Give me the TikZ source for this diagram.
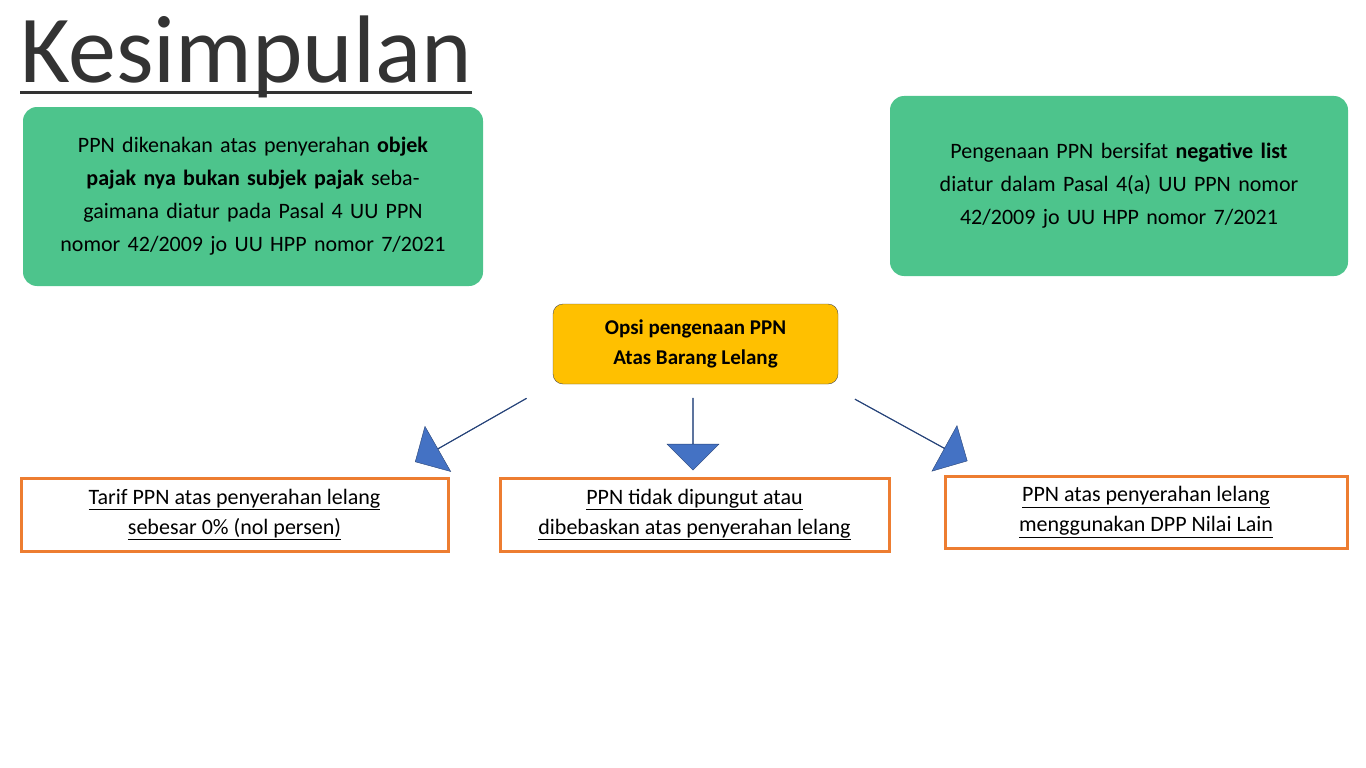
\documentclass[tikz,border=0pt]{standalone}
\usepackage{fontspec}
\setmainfont{Carlito}
\usetikzlibrary{positioning,shapes.arrows}
\definecolor{hijau}{RGB}{77,196,140}
\definecolor{kuning}{RGB}{255,192,0}
\definecolor{oranye}{RGB}{237,125,49}
\definecolor{biru}{RGB}{68,114,196}
\begin{document}
\begin{tikzpicture}[x=1pt,y=-1pt,
	kotak/.style={rectangle,rounded corners=14pt,fill=hijau,align=center,font=\fontsize{22}{33}\selectfont},
	opsi/.style={rectangle,draw=oranye,line width=3pt,align=center,font=\fontsize{22}{30}\selectfont},
	panah/.style={single arrow,draw=biru!60!black,fill=biru,minimum height=128pt,minimum width=52pt,single arrow head extend=14pt,inner sep=0pt}]
	\useasboundingbox (0,0) rectangle (1366,768);
	\node[anchor=base west,inner sep=0pt,font=\fontsize{96}{100}\selectfont,text=black!80] (judul) at (20,83) {Kesimpulan};
	\draw[black!80,line width=3pt] (judul.south west |- 0,93) -- (judul.south east |- 0,93);
	\node[kotak,minimum width=460pt,minimum height=179pt,text width=440pt] (kiri) at (253,196.5) {PPN dikenakan atas penyerahan \textbf{objek pajak nya bukan subjek pajak} sebagaimana diatur pada Pasal 4 UU PPN nomor 42/2009 jo UU HPP nomor 7/2021};
	\node[kotak,minimum width=458pt,minimum height=180pt,text width=440pt] (kanan) at (1119,186) {Pengenaan PPN bersifat \textbf{negative list} diatur dalam Pasal 4(a) UU PPN nomor 42/2009 jo UU HPP nomor 7/2021};
	\node[rectangle,rounded corners=10pt,draw=black!70,fill=kuning,minimum width=285pt,minimum height=80pt,align=center,font=\fontsize{21}{30}\selectfont\bfseries] (opsi) at (695.5,344) {Opsi pengenaan PPN\\Atas Barang Lelang};
	\node[panah,rotate=209.7] (pkiri) at (471,430) {};
	\node[panah,rotate=270,minimum height=72pt] (ptengah) at (693,434) {};
	\node[panah,rotate=331.2] (pkanan) at (911,430) {};
	\node[opsi,minimum width=427pt,minimum height=73pt] (tarif) at (234.5,514.5) {\underline{Tarif PPN atas penyerahan lelang}\\\underline{sebesar 0\% (nol persen)}};
	\node[opsi,minimum width=389pt,minimum height=73pt] (bebas) at (694.5,514.5) {\underline{PPN tidak dipungut atau}\\\underline{dibebaskan atas penyerahan lelang}};
	\node[opsi,minimum width=402pt,minimum height=72pt] (dpp) at (1146,512) {\underline{PPN atas penyerahan lelang}\\\underline{menggunakan DPP Nilai Lain}};
\end{tikzpicture}
\end{document}
